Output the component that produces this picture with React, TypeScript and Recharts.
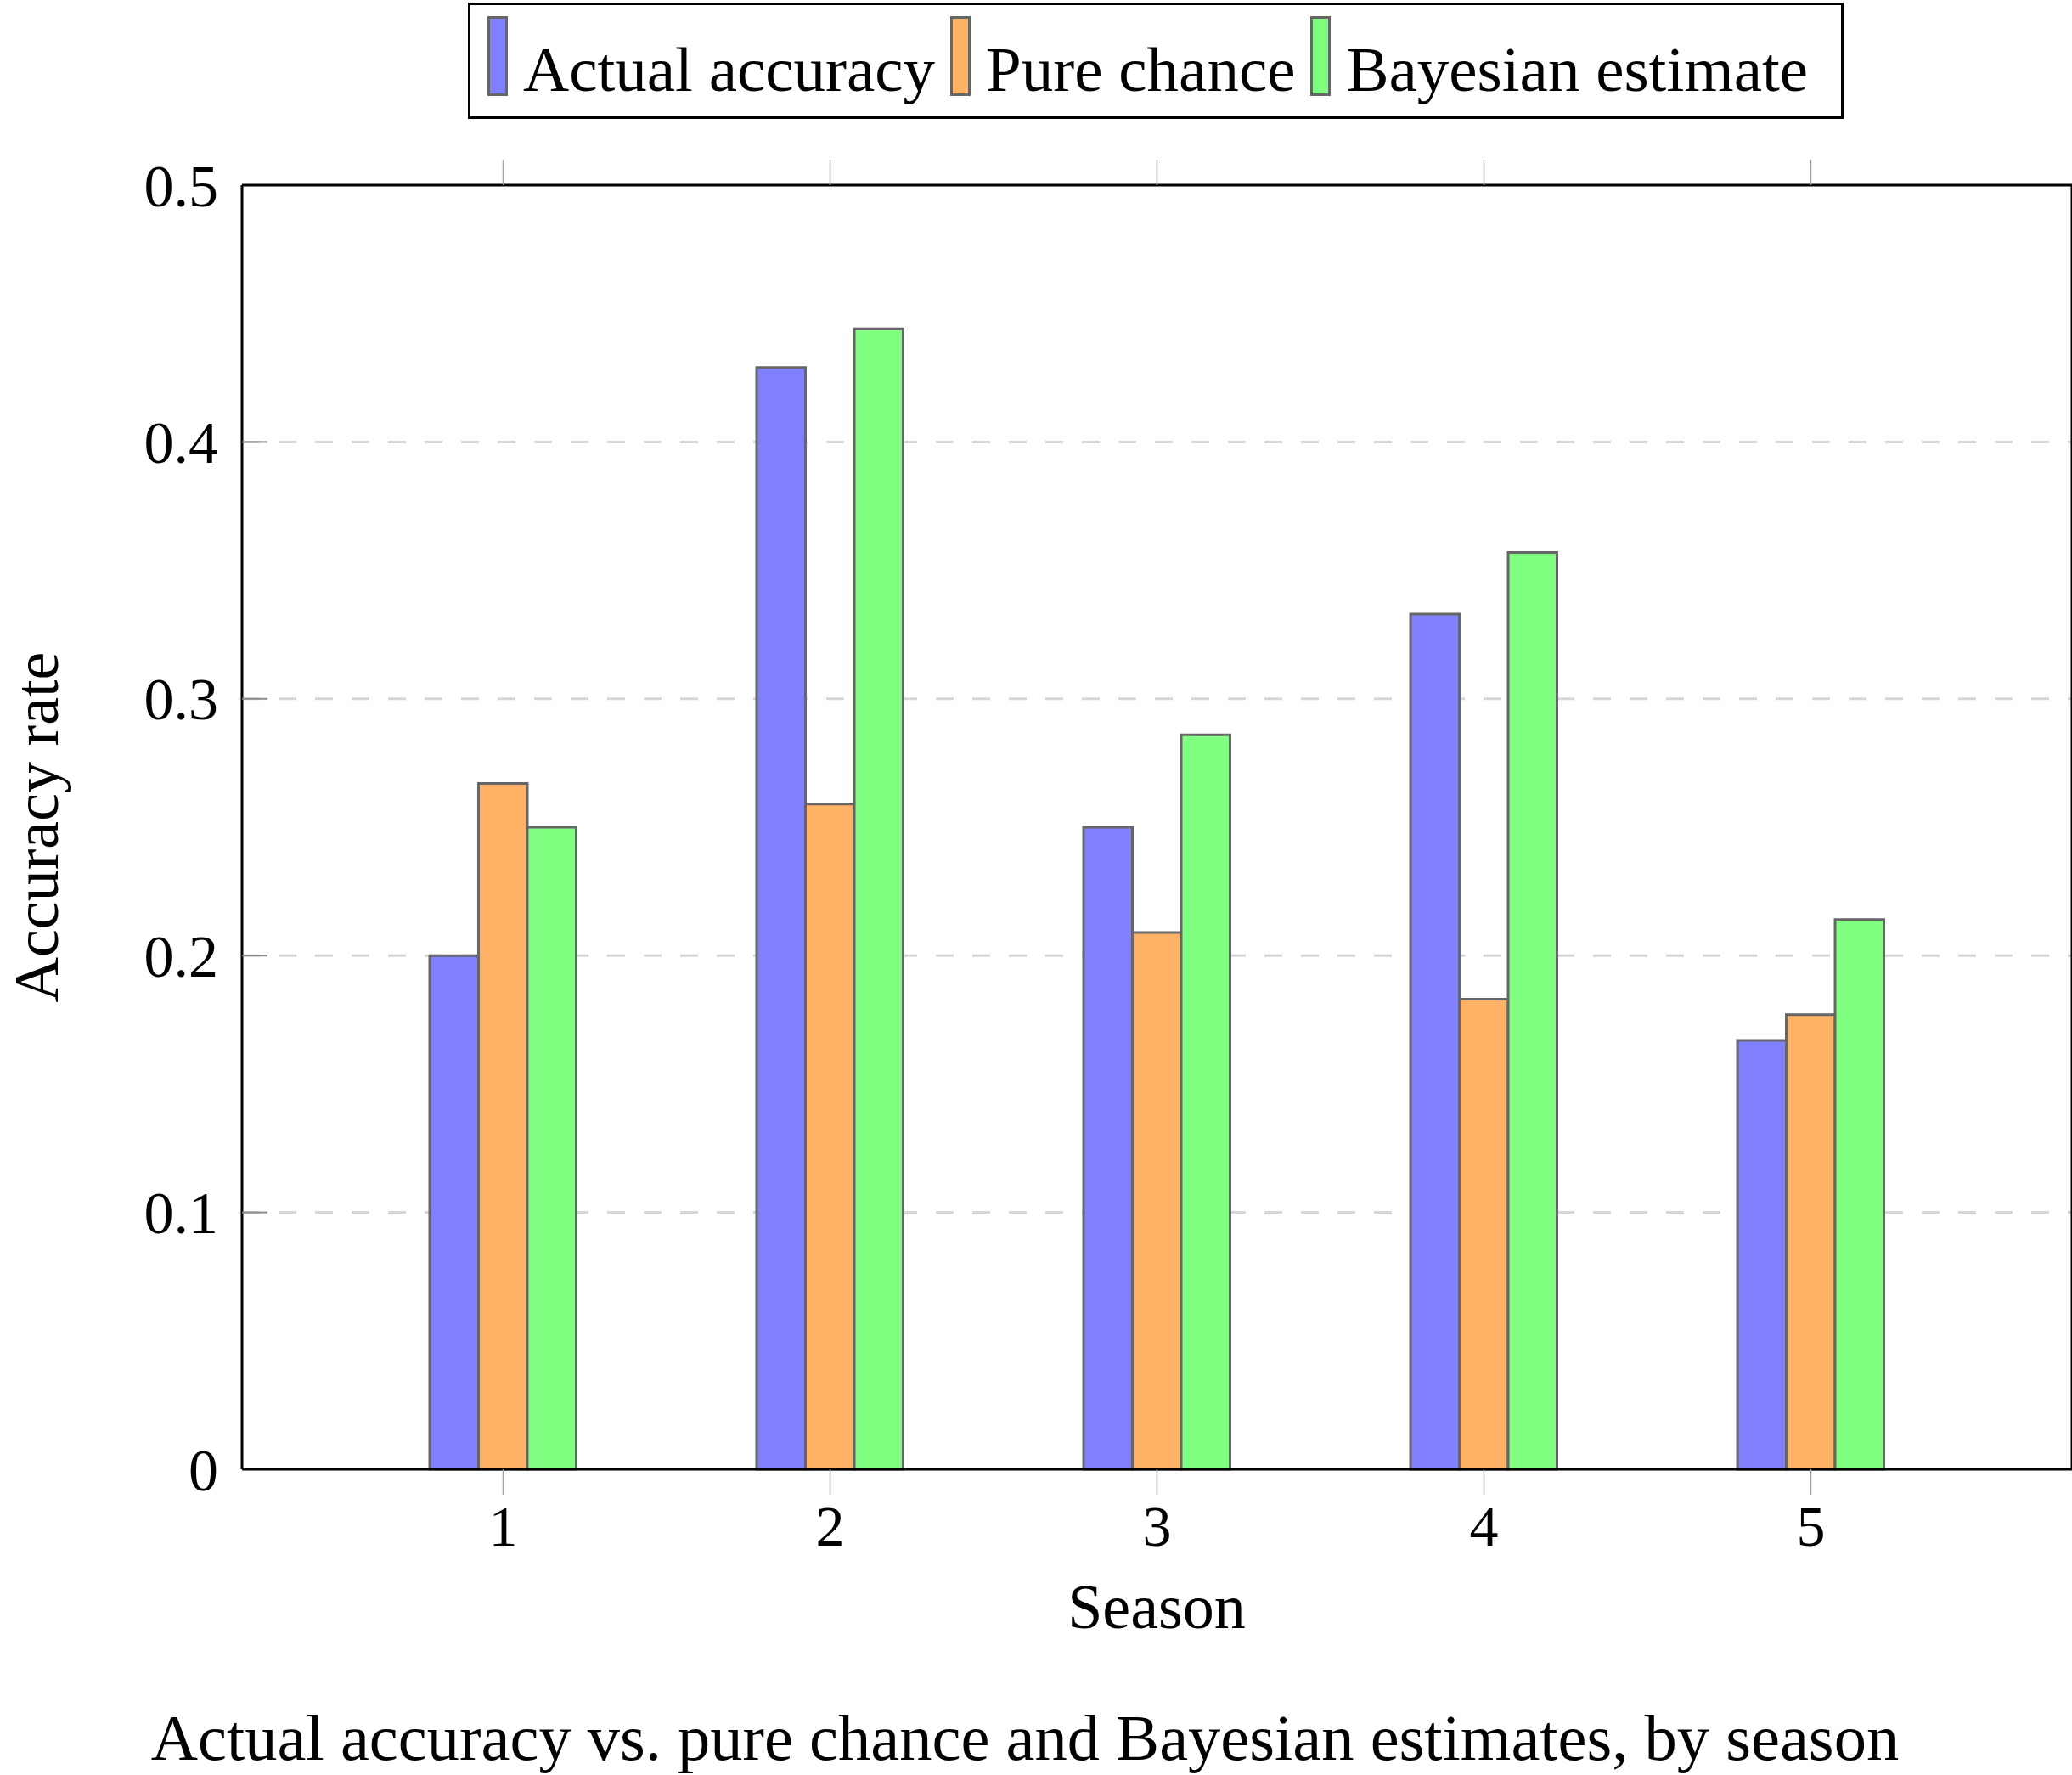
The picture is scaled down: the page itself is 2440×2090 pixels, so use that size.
import { BarChart, Bar, XAxis, YAxis, CartesianGrid, Legend, Label } from "recharts";

// Valeurs
const seasons = ["1", "2", "3", "4", "5"];
const actualAccuracy = [0.2, 0.429, 0.25, 0.333, 0.167];
const pureChance = [0.267, 0.259, 0.209, 0.183, 0.177];
const bayesianEstimate = [0.25, 0.444, 0.286, 0.357, 0.214];
const yTicks = [0, 0.1, 0.2, 0.3, 0.4, 0.5];
const innerTicks = [0.1, 0.2, 0.3, 0.4];

const series = [
  { key: "actual", name: "Actual accuracy", color: "#8080ff" },
  { key: "chance", name: "Pure chance", color: "#ffb266" },
  { key: "bayes", name: "Bayesian estimate", color: "#80ff80" },
];

const data = seasons.map((s, i) => ({
  season: s,
  actual: actualAccuracy[i],
  chance: pureChance[i],
  bayes: bayesianEstimate[i],
}));

const FONT = "'Liberation Serif', 'Times New Roman', serif";
const TICK_GRAY = "#8c8c8c";

const YTick = (props: any) => {
  const { x, y, payload } = props;
  const v = payload.value;
  return (
    <g>
      {v > 0 && v < 0.5 && (
        <line x1={x + 28} x2={x + 58} y1={y} y2={y} stroke={TICK_GRAY} strokeWidth={2} />
      )}
      <text x={x} y={y} dy="0.35em" textAnchor="end" fontFamily={FONT} fontSize={70} fill="#000">
        {v}
      </text>
    </g>
  );
};

const XTick = (props: any) => {
  const { x, y, payload } = props;
  return (
    <text x={x} y={y} dy={60} textAnchor="middle" fontFamily={FONT} fontSize={68} fill="#000">
      {payload.value}
    </text>
  );
};

const NoTick = () => <g />;

// légende dans l'ordre des séries (pas d'ordre alphabétique)
const LegendBox = () => (
  <div
    style={{
      boxSizing: "border-box",
      width: 1620,
      height: 137,
      border: "3px solid #000",
      display: "flex",
      alignItems: "flex-start",
      paddingLeft: 20,
      fontFamily: FONT,
      fontSize: 75,
      background: "#fff",
    }}
  >
    {series.map((s) => (
      <div key={s.key} style={{ display: "flex", alignItems: "flex-start", marginRight: 18 }}>
        <div
          style={{
            width: 24,
            height: 94,
            marginTop: 13,
            background: s.color,
            border: "3px solid #666",
            boxSizing: "border-box",
          }}
        />
        <span style={{ marginLeft: 18, marginTop: 38, lineHeight: "75px", whiteSpace: "nowrap" }}>
          {s.name}
        </span>
      </div>
    ))}
  </div>
);

const App = () => {
  return (
    <div style={{ position: "absolute", left: 0, top: 0, background: "#fff" }}>
      <BarChart
        width={2440}
        height={2090}
        data={data}
        margin={{ top: 188, right: 0, bottom: 0, left: 0 }}
        barGap={0}
      >
        <CartesianGrid
          vertical={false}
          horizontalValues={innerTicks}
          stroke="#d6d6d6"
          strokeWidth={3}
          strokeDasharray="21 22"
        />
        <XAxis
          dataKey="season"
          height={360}
          padding={{ left: 115, right: 115 }}
          axisLine={{ stroke: "#000", strokeWidth: 3 }}
          tickLine={{ stroke: "#a0a0a0", strokeWidth: 1.5 }}
          tickSize={30}
          tickMargin={0}
          tick={<XTick />}
          interval={0}
        >
          <Label
            content={() => (
              <g fontFamily={FONT} fill="#000">
                <text x={1362} y={1917} textAnchor="middle" fontSize={74}>
                  Season
                </text>
                <text x={1207} y={2072} textAnchor="middle" fontSize={76.5}>
                  Actual accuracy vs. pure chance and Bayesian estimates, by season
                </text>
              </g>
            )}
          />
        </XAxis>
        <XAxis
          xAxisId="top"
          orientation="top"
          dataKey="season"
          height={30}
          padding={{ left: 115, right: 115 }}
          axisLine={{ stroke: "#000", strokeWidth: 3 }}
          tickLine={{ stroke: "#a0a0a0", strokeWidth: 1.5 }}
          tickSize={30}
          tick={NoTick}
          interval={0}
        />
        <YAxis
          width={285}
          type="number"
          domain={[0, 0.5]}
          ticks={yTicks}
          interval={0}
          axisLine={{ stroke: "#000", strokeWidth: 3 }}
          tickLine={false}
          tickSize={0}
          tickMargin={28}
          tick={<YTick />}
        >
          <Label
            content={() => (
              <text
                x={68}
                y={974}
                transform="rotate(-90 68 974)"
                textAnchor="middle"
                fontFamily={FONT}
                fontSize={74}
                fill="#000"
              >
                Accuracy rate
              </text>
            )}
          />
        </YAxis>
        <YAxis
          yAxisId="right"
          orientation="right"
          width={3}
          type="number"
          domain={[0, 0.5]}
          ticks={innerTicks}
          interval={0}
          mirror
          axisLine={{ stroke: "#000", strokeWidth: 3 }}
          tickLine={{ stroke: TICK_GRAY, strokeWidth: 2 }}
          tickSize={30}
          tick={NoTick}
        />
        <Legend
          verticalAlign="middle"
          align="center"
          layout="horizontal"
          wrapperStyle={{ top: 3, left: 551, width: 1620, height: 137 }}
          content={<LegendBox />}
        />
        {series.map((s) => (
          <Bar
            key={s.key}
            dataKey={s.key}
            name={s.name}
            fill={s.color}
            stroke="#666666"
            strokeWidth={3}
            barSize={57.5}
            isAnimationActive={false}
          />
        ))}
      </BarChart>
    </div>
  );
};

export default App;
